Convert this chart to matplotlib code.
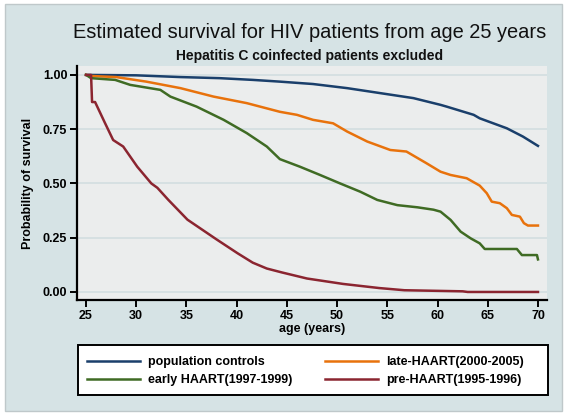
import matplotlib
matplotlib.use("Agg")
import matplotlib.pyplot as plt
from matplotlib.patches import Rectangle

plt.rcParams['font.family'] = ['Liberation Sans', 'DejaVu Sans']

# ---- data ----
ctrl_age = [25, 30, 34.4, 38.3, 41.6, 44.3, 47.6, 51, 54.3, 57.6, 60.3, 60.9, 63.6, 64.2, 66.9, 68.5, 70]
ctrl_val = [1.0, 0.998, 0.99, 0.985, 0.977, 0.969, 0.958, 0.939, 0.916, 0.893, 0.862, 0.854, 0.816, 0.80, 0.754, 0.716, 0.673]

late_age = [25, 25.5, 28, 31, 34.4, 37.7, 41, 44.3, 46, 47.6, 49.6, 51, 53, 55.3, 56.9, 58.9, 60.3,
            61.3, 62.9, 64.2, 64.9, 65.4, 66.2, 66.9, 67.4, 68.2, 68.6, 69, 70]
late_val = [1.0, 0.995, 0.99, 0.969, 0.939, 0.90, 0.87, 0.83, 0.816, 0.793, 0.777, 0.739, 0.693, 0.654, 0.647, 0.593, 0.554,
            0.539, 0.524, 0.49, 0.455, 0.416, 0.409, 0.386, 0.355, 0.347, 0.317, 0.306, 0.306]

early_age = [25, 25.5, 27.9, 29.4, 32.4, 33.4, 36, 38.7, 41, 43, 44.3, 46.3, 48.3, 50.3, 52.3, 54, 56, 58,
             59.6, 60.3, 61.3, 62.3, 63.3, 64.2, 64.7, 67.9, 68.4, 69.9, 70]
early_val = [1.0, 0.985, 0.977, 0.954, 0.931, 0.90, 0.854, 0.793, 0.732, 0.67, 0.612, 0.577, 0.539, 0.50, 0.462, 0.424, 0.40, 0.39,
             0.379, 0.37, 0.332, 0.278, 0.247, 0.224, 0.198, 0.198, 0.17, 0.17, 0.15]

pre_age = [25, 25.5, 25.6, 25.9, 26.9, 27.7, 28.7, 30.1, 31.5, 32.1, 33.2, 35.1, 38, 40.1, 41.6, 43, 44.5, 47,
           50.6, 54.2, 56.7, 62.5, 63, 70]
pre_val = [1.0, 1.0, 0.875, 0.875, 0.777, 0.70, 0.67, 0.577, 0.50, 0.48, 0.424, 0.333, 0.242, 0.178, 0.135, 0.108, 0.09, 0.062,
           0.037, 0.018, 0.008, 0.003, 0.0, 0.0]

labels = ["population controls", "late-HAART(2000-2005)", "early HAART(1997-1999)", "pre-HAART(1995-1996)"]
xticks = [25, 30, 35, 40, 45, 50, 55, 60, 65, 70]
yticks = [0.0, 0.25, 0.5, 0.75, 1.0]
ytick_labels = ["0.00", "0.25", "0.50", "0.75", "1.00"]

colors = ["#1A3F6B", "#E8720C", "#3F6B24", "#8B2530"]

W, H = 567, 418
fig = plt.figure(figsize=(W / 100, H / 100), dpi=100)
fig.patch.set_facecolor("white")

# outer graph region
bg = Rectangle((5 / W, 1 - 411 / H), 557 / W, 407 / H, transform=fig.transFigure,
               facecolor="#D6E3E5", edgecolor="#BFC8CA", linewidth=1.0, zorder=-10)
fig.add_artist(bg)

ax = fig.add_axes([77 / W, 1 - 300 / H, 470 / W, 234 / H])
ax.set_facecolor("#EBEDED")
ax.set_xlim(24.1, 70.9)
ax.set_ylim(-0.037, 1.041)

for yv in yticks:
    ax.axhline(yv, color="#D2DEE0", linewidth=1.2, zorder=1)

lines = []
for a, v, c, lab in [(ctrl_age, ctrl_val, colors[0], labels[0]),
                     (late_age, late_val, colors[1], labels[1]),
                     (early_age, early_val, colors[2], labels[2]),
                     (pre_age, pre_val, colors[3], labels[3])]:
    ln, = ax.plot(a, v, color=c, linewidth=1.8, label=lab, zorder=3)
    lines.append(ln)

for s in ["top", "right"]:
    ax.spines[s].set_visible(False)
for s in ["left", "bottom"]:
    ax.spines[s].set_color("black")
    ax.spines[s].set_linewidth(1.6)

ax.set_xticks(xticks)
ax.set_xticklabels([str(t) for t in xticks], fontsize=9, fontweight="bold")
ax.set_yticks(yticks)
ax.set_yticklabels(ytick_labels, fontsize=9, fontweight="bold")
ax.tick_params(axis="both", direction="out", length=5, width=1.4, color="black", pad=2)

ax.set_xlabel("age (years)", fontsize=9, fontweight="bold", labelpad=1)
ax.set_ylabel("Probability of survival", fontsize=9, fontweight="bold", labelpad=6)

fig.text(310 / W, 1 - 32 / H, "Estimated survival for HIV patients from age 25 years",
         ha="center", va="center", fontsize=14.4, color="#111111")
fig.text(310 / W, 1 - 56 / H, "Hepatitis C coinfected patients excluded",
         ha="center", va="center", fontsize=10, fontweight="bold", color="#111111")

# legend frame
lframe = Rectangle((78 / W, 1 - 395 / H), 470 / W, 50 / H, transform=fig.transFigure,
                   facecolor="white", edgecolor="black", linewidth=1.4, zorder=1)
fig.add_artist(lframe)

# legend order: row-major (ctrl, late / early, pre) -> column-major handles
order = [0, 2, 1, 3]
leg = fig.legend(handles=[lines[i] for i in order], labels=[labels[i] for i in order], ncol=2,
                 loc="center left", bbox_to_anchor=(87 / W, 1 - 371 / H),
                 prop={"size": 9, "weight": "bold"}, handlelength=4.2, handletextpad=0.65,
                 columnspacing=2.65, labelspacing=0.5, borderaxespad=0.0, borderpad=0.0,
                 frameon=False)
leg.set_zorder(2)

fig.savefig("out.png", dpi=100)
